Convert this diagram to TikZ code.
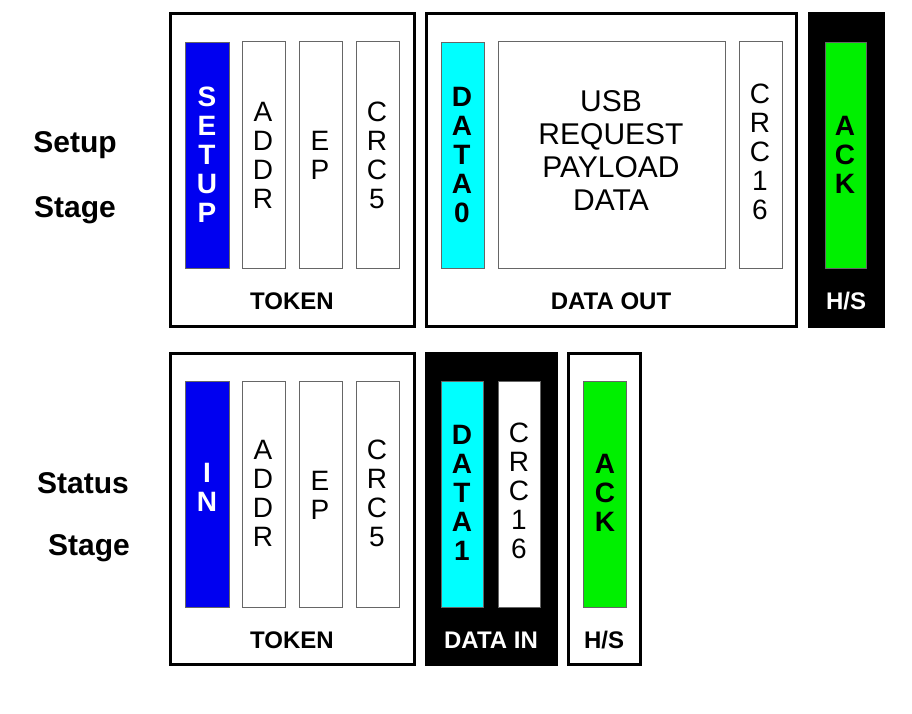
\documentclass[tikz,border=0pt]{standalone}
\usepackage{fontspec}
\setmainfont{Liberation Sans}
\definecolor{cblue}{RGB}{0,0,240}
\definecolor{ccyan}{RGB}{0,255,255}
\definecolor{cgreen}{RGB}{0,240,0}
\begin{document}
\begin{tikzpicture}[x=1pt,y=-1pt,
  outer/.style={draw=black,line width=3pt,fill=white},
  blk/.style={draw=black,line width=3pt,fill=black},
  fld/.style={draw=black!60,line width=1pt,fill=white},
  fnt/.style={font=\fontsize{28}{29}\selectfont,align=center,inner sep=0},
  bfnt/.style={font=\fontsize{28}{29}\selectfont\bfseries,align=center,inner sep=0},
  lbl/.style={font=\fontsize{24}{26}\selectfont\bfseries,inner sep=0},
  side/.style={font=\fontsize{30}{32}\selectfont\bfseries,inner sep=0}]
\useasboundingbox (0,0) rectangle (912,714);
% left labels
\node[side] (s1) at (75,145) {Setup};
\node[side] (s2) at (75,210) {Stage};
\node[side] (s3) at (83,483) {Status};
\node[side] (s4) at (89,548) {Stage};
% top row
\draw[outer] (170,14) rectangle (414,326);
\draw[outer] (426,14) rectangle (796,326);
\draw[blk] (809,14) rectangle (883,326);
\draw[draw=black!60,fill=cblue] (185,42) rectangle (229,268);
\draw[fld] (242,42) rectangle (285,268);
\draw[fld] (299,42) rectangle (342,268);
\draw[fld] (356,42) rectangle (399,268);
\draw[draw=black!60,fill=ccyan] (441,42) rectangle (484,268);
\draw[fld] (498,42) rectangle (725,268);
\draw[fld] (739,42) rectangle (782,268);
\draw[draw=black!60,fill=cgreen] (825,42) rectangle (866,268);
\node[bfnt,text=white] (setup) at (207,155) {S\\E\\T\\U\\P};
\node[fnt] (addr) at (263,155) {A\\D\\D\\R};
\node[fnt] (ep) at (320,155) {E\\P};
\node[fnt] (crc5) at (377,155) {C\\R\\C\\5};
\node[bfnt] (data0) at (462,155) {D\\A\\T\\A\\0};
\node[fnt,font=\fontsize{30}{33}\selectfont] (pl) at (611,151) {USB\\REQUEST\\PAYLOAD\\DATA};
\node[fnt] (crc16) at (760,152) {C\\R\\C\\1\\6};
\node[bfnt] (ack) at (845,155) {A\\C\\K};
\node[lbl] (tok1) at (292,301) {TOKEN};
\node[lbl] (dout) at (611,301) {DATA OUT};
\node[lbl,text=white] (hs1) at (846,301) {H/S};
% bottom row
\draw[outer] (170,353) rectangle (414,664);
\draw[blk] (426,353) rectangle (556,664);
\draw[outer] (568,353) rectangle (640,664);
\draw[draw=black!60,fill=cblue] (185,381) rectangle (229,607);
\draw[fld] (242,381) rectangle (285,607);
\draw[fld] (299,381) rectangle (342,607);
\draw[fld] (356,381) rectangle (399,607);
\draw[draw=black!60,fill=ccyan] (441,381) rectangle (483,607);
\draw[fld] (498,381) rectangle (540,607);
\draw[draw=black!60,fill=cgreen] (583,381) rectangle (626,607);
\node[bfnt,text=white] (in) at (207,487) {I\\N};
\node[fnt] (addr2) at (263,493) {A\\D\\D\\R};
\node[fnt] (ep2) at (320,495) {E\\P};
\node[fnt] (crc52) at (377,493) {C\\R\\C\\5};
\node[bfnt] (data1) at (462,493) {D\\A\\T\\A\\1};
\node[fnt] (crc162) at (519,491) {C\\R\\C\\1\\6};
\node[bfnt] (ack2) at (605,493) {A\\C\\K};
\node[lbl] (tok2) at (292,640) {TOKEN};
\node[lbl,text=white] (din) at (491,640) {DATA IN};
\node[lbl] (hs2) at (604,640) {H/S};
\end{tikzpicture}
\end{document}
